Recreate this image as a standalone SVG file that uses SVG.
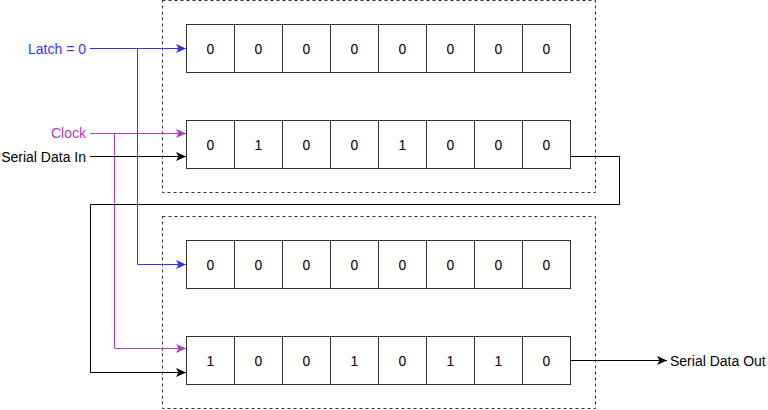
<svg xmlns="http://www.w3.org/2000/svg" width="768" height="410" viewBox="0 0 768 410">
<defs>
<style>
.cell{fill:#fff;stroke:#333;stroke-width:1}
.d{font-family:"Liberation Sans",Arial,sans-serif;font-size:14px;fill:#000;text-anchor:middle;dominant-baseline:central}
.lbl{font-family:"Liberation Sans",Arial,sans-serif;font-size:14px;dominant-baseline:central}
.box{fill:none;stroke:#333;stroke-width:1;stroke-dasharray:3 3}
.w{fill:none;stroke-width:1}
</style>
<marker id="aK" markerUnits="userSpaceOnUse" markerWidth="12" markerHeight="10" refX="10" refY="4.5" orient="auto"><path d="M0,0 L10,4.5 L0,9 L2.5,4.5 Z" fill="#000"/></marker>
<marker id="aB" markerUnits="userSpaceOnUse" markerWidth="12" markerHeight="10" refX="10" refY="4.5" orient="auto"><path d="M0,0 L10,4.5 L0,9 L2.5,4.5 Z" fill="#3333FF"/></marker>
<marker id="aM" markerUnits="userSpaceOnUse" markerWidth="12" markerHeight="10" refX="10" refY="4.5" orient="auto"><path d="M0,0 L10,4.5 L0,9 L2.5,4.5 Z" fill="#B03CB8"/></marker>
</defs>
<rect width="768" height="410" fill="#fff"/>

<g id="group-top"><rect class="box" x="162.5" y="0.5" width="433" height="192"/></g>
<g id="group-bottom"><rect class="box" x="162.5" y="216.5" width="433" height="192"/></g>

<g id="connectors">
<path class="w" stroke="#3333FF" d="M90,48.5 H186" marker-end="url(#aB)"/>
<path class="w" stroke="#3333FF" d="M137.5,48.5 V264.5 H186" marker-end="url(#aB)"/>
<path class="w" stroke="#B03CB8" d="M90,133.5 H186" marker-end="url(#aM)"/>
<path class="w" stroke="#B03CB8" d="M114.5,133.5 V348.5 H186" marker-end="url(#aM)"/>
<path class="w" stroke="#000" d="M90,156.5 H186" marker-end="url(#aK)"/>
<path class="w" stroke="#000" d="M571,156.5 H619.5 V204.5 H90.5 V372.5 H186" marker-end="url(#aK)"/>
<path class="w" stroke="#000" d="M571,360.5 H667" marker-end="url(#aK)"/>
</g>

<g id="label-latch"><text class="lbl" x="86" y="48.5" text-anchor="end" fill="#3333FF">Latch = 0</text></g>
<g id="label-clock"><text class="lbl" x="86" y="133" text-anchor="end" fill="#B03CB8">Clock</text></g>
<g id="label-sdi"><text class="lbl" x="86" y="157" text-anchor="end" fill="#000">Serial Data In</text></g>
<g id="label-sdo"><text class="lbl" x="670" y="361" fill="#000">Serial Data Out</text></g>

<g id="reg-latch-1">
<rect class="cell" x="186.5" y="24.5" width="48" height="48"/><text class="d" x="210.5" y="48.5">0</text>
<rect class="cell" x="234.5" y="24.5" width="48" height="48"/><text class="d" x="258.5" y="48.5">0</text>
<rect class="cell" x="282.5" y="24.5" width="48" height="48"/><text class="d" x="306.5" y="48.5">0</text>
<rect class="cell" x="330.5" y="24.5" width="48" height="48"/><text class="d" x="354.5" y="48.5">0</text>
<rect class="cell" x="378.5" y="24.5" width="48" height="48"/><text class="d" x="402.5" y="48.5">0</text>
<rect class="cell" x="426.5" y="24.5" width="48" height="48"/><text class="d" x="450.5" y="48.5">0</text>
<rect class="cell" x="474.5" y="24.5" width="48" height="48"/><text class="d" x="498.5" y="48.5">0</text>
<rect class="cell" x="522.5" y="24.5" width="48" height="48"/><text class="d" x="546.5" y="48.5">0</text>
</g>

<g id="reg-shift-1">
<rect class="cell" x="186.5" y="120.5" width="48" height="48"/><text class="d" x="210.5" y="144.5">0</text>
<rect class="cell" x="234.5" y="120.5" width="48" height="48"/><text class="d" x="258.5" y="144.5">1</text>
<rect class="cell" x="282.5" y="120.5" width="48" height="48"/><text class="d" x="306.5" y="144.5">0</text>
<rect class="cell" x="330.5" y="120.5" width="48" height="48"/><text class="d" x="354.5" y="144.5">0</text>
<rect class="cell" x="378.5" y="120.5" width="48" height="48"/><text class="d" x="402.5" y="144.5">1</text>
<rect class="cell" x="426.5" y="120.5" width="48" height="48"/><text class="d" x="450.5" y="144.5">0</text>
<rect class="cell" x="474.5" y="120.5" width="48" height="48"/><text class="d" x="498.5" y="144.5">0</text>
<rect class="cell" x="522.5" y="120.5" width="48" height="48"/><text class="d" x="546.5" y="144.5">0</text>
</g>

<g id="reg-latch-2">
<rect class="cell" x="186.5" y="240.5" width="48" height="48"/><text class="d" x="210.5" y="264.5">0</text>
<rect class="cell" x="234.5" y="240.5" width="48" height="48"/><text class="d" x="258.5" y="264.5">0</text>
<rect class="cell" x="282.5" y="240.5" width="48" height="48"/><text class="d" x="306.5" y="264.5">0</text>
<rect class="cell" x="330.5" y="240.5" width="48" height="48"/><text class="d" x="354.5" y="264.5">0</text>
<rect class="cell" x="378.5" y="240.5" width="48" height="48"/><text class="d" x="402.5" y="264.5">0</text>
<rect class="cell" x="426.5" y="240.5" width="48" height="48"/><text class="d" x="450.5" y="264.5">0</text>
<rect class="cell" x="474.5" y="240.5" width="48" height="48"/><text class="d" x="498.5" y="264.5">0</text>
<rect class="cell" x="522.5" y="240.5" width="48" height="48"/><text class="d" x="546.5" y="264.5">0</text>
</g>

<g id="reg-shift-2">
<rect class="cell" x="186.5" y="336.5" width="48" height="48"/><text class="d" x="210.5" y="360.5">1</text>
<rect class="cell" x="234.5" y="336.5" width="48" height="48"/><text class="d" x="258.5" y="360.5">0</text>
<rect class="cell" x="282.5" y="336.5" width="48" height="48"/><text class="d" x="306.5" y="360.5">0</text>
<rect class="cell" x="330.5" y="336.5" width="48" height="48"/><text class="d" x="354.5" y="360.5">1</text>
<rect class="cell" x="378.5" y="336.5" width="48" height="48"/><text class="d" x="402.5" y="360.5">0</text>
<rect class="cell" x="426.5" y="336.5" width="48" height="48"/><text class="d" x="450.5" y="360.5">1</text>
<rect class="cell" x="474.5" y="336.5" width="48" height="48"/><text class="d" x="498.5" y="360.5">1</text>
<rect class="cell" x="522.5" y="336.5" width="48" height="48"/><text class="d" x="546.5" y="360.5">0</text>
</g>
</svg>
